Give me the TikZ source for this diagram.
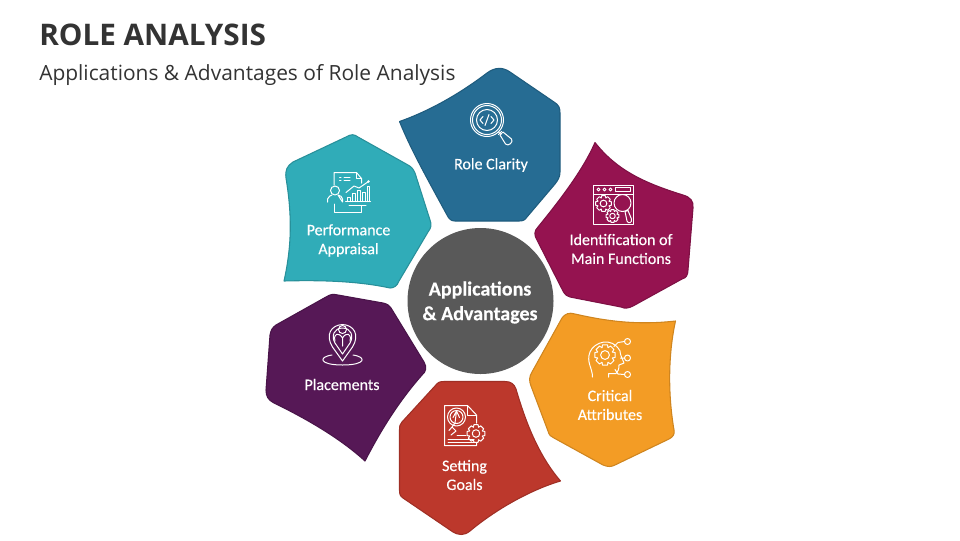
\documentclass[tikz,border=0pt]{standalone}
\usepackage{fontspec}
\setmainfont{Carlito}
\newfontfamily\titlefont{Open Sans}
\newfontfamily\labelfont[FakeBold=0.35]{Carlito}
\newfontfamily\hubfont[FakeBold=0.3]{Carlito Bold}
\usetikzlibrary{positioning}
\definecolor{palBlue}{HTML}{266C93}
\definecolor{palBlueDk}{HTML}{1F5C7E}
\definecolor{palWine}{HTML}{951350}
\definecolor{palWineDk}{HTML}{7E1044}
\definecolor{palTeal}{HTML}{30ACB8}
\definecolor{palTealDk}{HTML}{28909A}
\definecolor{palOrange}{HTML}{F39C25}
\definecolor{palOrangeDk}{HTML}{CF851F}
\definecolor{palRed}{HTML}{BC382C}
\definecolor{palRedDk}{HTML}{9F2F25}
\definecolor{palPurple}{HTML}{561856}
\definecolor{palPurpleDk}{HTML}{491449}
\definecolor{palGray}{HTML}{595959}
\definecolor{palInk}{HTML}{333333}
\tikzset{
  petal/.style={line width=0.8pt, line join=round},
  petaltext/.style={text=white, align=center, inner sep=0pt,
                    font=\fontsize{12}{14.2}\selectfont\labelfont},
  hubnode/.style={circle, fill=palGray, minimum size=109.5pt, inner sep=0pt},
  hubtext/.style={text=white, align=center, inner sep=0pt,
                  font=\fontsize{15}{18}\selectfont\hubfont},
  iconline/.style={draw=white, line width=0.75pt, line join=round, line cap=round, fill=none},
  gearpic/.pic={
    \foreach \a in {0,45,...,315}{
      \draw[iconline] (\a-23:0.76) -- (\a-13:1) -- (\a+13:1) -- (\a+23:0.76)
                      -- (\a+22:0.76);
    }
    \draw[iconline] (0,0) circle (0.42);
  },
}
\begin{document}
\begin{tikzpicture}[x=0.75pt,y=-0.75pt]
\useasboundingbox (0,0) rectangle (960,540);
%% Titles
\node[anchor=base west, inner sep=0pt, text=palInk, font=\fontsize{22.3}{26}\selectfont\titlefont\bfseries] (title) at (39,45) {ROLE ANALYSIS};
\node[anchor=base west, inner sep=0pt, text=palInk, font=\fontsize{15.7}{18}\selectfont\titlefont] (subtitle) at (39,80) {Applications \& Advantages of Role Analysis};
%% Petals
\path[petal, fill=palBlue, draw=palBlueDk] (399.5,121.5) .. controls (432,110) and (462,92) .. (487,73) .. controls (495,67) and (503,67) .. (510,72) -- (554,102) .. controls (559,105) and (560,108) .. (560,113) -- (560,172) .. controls (560,177) and (558,180) .. (555,184) -- (527,217) .. controls (525,220) and (523,221) .. (519,221) -- (455,221) .. controls (451,221) and (449,219) .. (447,215) .. controls (428,180) and (411,150) .. (399.5,121.5) -- cycle;
\path[petal, fill=palWine, draw=palWineDk] (595,142.5) .. controls (618,172) and (648,184) .. (683,195) .. controls (690,197) and (694,201) .. (693,208) -- (688,270) .. controls (688,275) and (686,278) .. (682,279) -- (633,306) .. controls (629,308) and (625,309) .. (621,307) -- (570,297) .. controls (567,296) and (565,295) .. (563,291) -- (537,240) .. controls (534,235) and (534,231) .. (538,227) .. controls (560,200) and (583,170) .. (595,142.5) -- cycle;
\path[petal, fill=palOrange, draw=palOrangeDk] (675.5,321) .. controls (640,325) and (610,322) .. (575,314) .. controls (569,312) and (565,314) .. (562,318) -- (532,372) .. controls (529,377) and (529,381) .. (531,386) -- (548,431) .. controls (549,435) and (551,437) .. (554,438) -- (603,465) .. controls (608,467) and (611,467) .. (615,465) -- (669,439) .. controls (673,437) and (675,434) .. (674,430) .. controls (668,395) and (668,355) .. (675.5,321) -- cycle;
\path[petal, fill=palRed, draw=palRedDk] (560.5,481) .. controls (530,490) and (495,510) .. (470,531) .. controls (464,536) and (458,535) .. (453,532) -- (403,498) .. controls (400,496) and (399.5,494) .. (399.5,490) -- (399.5,430) .. controls (399.5,426) and (400,424) .. (402,422) -- (435,386) .. controls (438,382) and (440,381.5) .. (444,381.5) -- (505,381.5) .. controls (511,381.5) and (514,384) .. (516,389) .. controls (525,420) and (538,455) .. (560.5,481) -- cycle;
\path[petal, fill=palPurple, draw=palPurpleDk] (365,461) .. controls (340,438) and (305,418) .. (274,403) .. controls (268,400) and (266,396) .. (266,390) -- (270,335) .. controls (271,330) and (272,328) .. (276,325) -- (326,297) .. controls (331,294) and (333,294) .. (338,295) -- (383,303) .. controls (387,304) and (389,305) .. (391,308) -- (424,362) .. controls (427,367) and (426,372) .. (422,375) .. controls (400,400) and (382,428) .. (365,461) -- cycle;
\path[petal, fill=palTeal, draw=palTealDk] (284,281) .. controls (292,245) and (292,215) .. (286,178) .. controls (285,170) and (287,166) .. (293,162) -- (346,137) .. controls (351,134) and (354,134) .. (358,137) -- (408,165) .. controls (412,167) and (413,169) .. (415,173) -- (430,220) .. controls (432,225) and (431,228) .. (428,232) -- (399,281) .. controls (397,286) and (394,288) .. (390,288) .. controls (358,281) and (320,280) .. (284,281) -- cycle;
%% Hub
\node[hubnode] (hub) at (480.5,301) {};
\node[hubtext] (hublabel) at (480,302.5) {Applications\\[0.5pt]\& Advantages};
%% Labels
\node[petaltext] (roleclarity) at (491,165) {Role Clarity};
\node[petaltext] (identification) at (621,249) {Identification of\\Main Functions};
\node[petaltext] (critical) at (610,405) {Critical\\Attributes};
\node[petaltext] (setting) at (464.5,475) {Setting\\Goals};
\node[petaltext] (placements) at (342,384.5) {Placements};
\node[petaltext] (performance) at (348.5,240.5) {Performance\\Appraisal};
%% Icon: magnifier
\draw[iconline] (487,120) circle (16.5) (487,120) circle (14.5) (487,120) circle (10.5);
\draw[iconline] (483,116.5) -- (480,120) -- (483,123.5) (491,116.5) -- (494,120) -- (491,123.5) (489,114.5) -- (485,125.5);
\draw[iconline] (498.5,132) -- (501,134.5) (501.5,131.5) -- (498.5,134.5);
\draw[iconline] (500,135) -- (503,132) -- (511.5,139) .. controls (514,142) and (508,147) .. (505.5,144) -- cycle;
%% Icon: window
\draw[iconline] (593.5,185) rectangle (633.5,224.5) (593.5,194) -- (633.5,194);
\foreach \x in {598.5,604.5,610.5}{
  \draw[iconline] (\x,189.5) circle (1.5);
}
\draw[iconline] (615.5,187.5) rectangle (630.5,191.5);
\pic[scale=8] at (603.5,203.5) {gearpic};
\pic[scale=6.5] at (612.5,216) {gearpic};
\draw[iconline] (622.5,203) circle (8.5);
\draw[iconline] (625,211.5) -- (628,210.5) -- (631.5,219) .. controls (632.5,223) and (628,224) .. (627,221) -- cycle;
%% Icon: head
\pic[scale=10.5] at (605,355) {gearpic};
\draw[iconline] (592.5,377) .. controls (592.5,368) and (586,362) .. (590,352) .. controls (594,342) and (612,336) .. (620,351) .. controls (620,355) and (623,360) .. (624,363) -- (619,365) .. controls (619,369) and (618,372) .. (616,373.5) -- (608.5,373.5) -- (608.5,377);
\draw[iconline] (627.5,341.5) circle (3) (627.5,358) circle (3) (627.5,374.5) circle (3);
\draw[iconline] (624.5,341.5) -- (618,342.5) -- (614,346.5) (624.5,358) -- (620.5,358) (624.5,374.5) -- (618,374) -- (615,369.5);
%% Icon: target document
\draw[iconline] (476.5,423) -- (476.5,415) -- (467.5,405.5) -- (444.5,405.5) -- (444.5,445.5) -- (476.5,445.5) -- (476.5,443);
\draw[iconline] (467.5,405.5) -- (467.5,415) -- (476.5,415);
\draw[iconline] (456.5,417) circle (9) (456.5,417) circle (6.5);
\draw[iconline] (456.5,411) -- (453,417.5) (456.5,411) -- (459.5,417.5) (456.5,411) -- (455,423) -- (452,427) -- (449,430.5) (452,427) -- (456,431) -- (451,435);
\draw[iconline] (457,435) -- (466,435) (448,439) -- (474,439) (448,442.5) -- (474,442.5);
\pic[scale=9] at (476,433.5) {gearpic};
%% Icon: pin
\draw[iconline] (332.5,347) .. controls (325,335) and (331,325) .. (342.5,324.5) .. controls (354,325) and (360,335) .. (352.5,347) -- (342.5,361) -- cycle;
\draw[iconline] (342.5,328) .. controls (334,328) and (331,336) .. (335,343) -- (342.5,354) -- (350,343) .. controls (354,336) and (351,328) .. (342.5,328);
\draw[iconline] (342.5,329.5) circle (4);
\draw[iconline] (335,341) .. controls (333,333) and (339,332) .. (342.5,338) .. controls (346,332) and (352,333) .. (350,341) (342.5,338) -- (342.5,346);
\draw[iconline] (332,355) .. controls (318,357) and (319,365) .. (342.5,365) .. controls (366,365) and (367,357) .. (353,355);
%% Icon: report
\draw[iconline] (334,185) -- (334,172.5) -- (356.5,172.5) -- (361.5,178.5) -- (361.5,183);
\draw[iconline] (356.5,172.5) -- (356.5,178.5) -- (361.5,178.5);
\draw[iconline] (334,204) -- (334,212.5) -- (361.5,212.5) -- (361.5,205.5);
\draw[iconline] (339.5,177) -- (341,177) (344,177) -- (350,177) (339.5,180) -- (341,180) (344,180) -- (350,180);
\draw[iconline] (335,190.5) circle (4.5);
\draw[iconline] (327.5,202) -- (327.5,199) .. controls (328,196) and (331,196) .. (332,195) (338,195) .. controls (340,196) and (342.5,196) .. (342.5,199) -- (342.5,202) -- cycle;
\foreach \x/\y in {347.5/197,352.5/193,357.5/190,362.5/192,367/186}{
  \draw[iconline] (\x,201.5) -- (\x,\y) -- (\x+2.5,\y) -- (\x+2.5,201.5);
}
\draw[iconline] (345.5,201.5) -- (370.5,201.5) (349,205) -- (366,205);
\draw[iconline] (346,192.5) -- (354,186) -- (359,188) -- (368.5,181.5);
\fill[white] (368.5,181.5) circle (1.3);
\end{tikzpicture}
\end{document}
